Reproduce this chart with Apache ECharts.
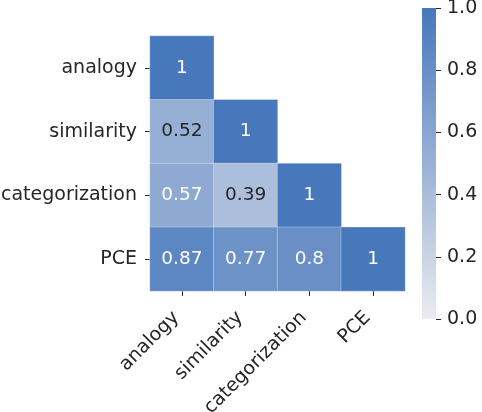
<!DOCTYPE html>
<html><head><meta charset="utf-8">
<script src="https://cdn.jsdelivr.net/npm/echarts@6/dist/echarts.min.js"></script>
<style>html,body{margin:0;padding:0;background:#fff}#c{width:482px;height:412px}</style>
</head><body><div id="c"></div>
<script>
const categories = ['analogy', 'similarity', 'categorization', 'PCE'];
const rowAnalogy = [1];
const rowSimilarity = [0.52, 1];
const rowCategorization = [0.57, 0.39, 1];
const rowPCE = [0.87, 0.77, 0.8, 1];
const colorbarTicks = [0, 0.2, 0.4, 0.6, 0.8, 1.0];

const rows = [rowAnalogy, rowSimilarity, rowCategorization, rowPCE];
const lowColor = '#ebebef', highColor = '#4878bc';
const data = [];
rows.forEach((row, yi) => row.forEach((v, xi) => {
  data.push({value: [xi, yi, v], label: {color: v < 0.55 ? '#262626' : '#ffffff'}});
}));

const font = 'DejaVu Sans';
const chart = echarts.init(document.getElementById('c'), null, {renderer: 'canvas'});
chart.setOption({
  animation: false,
  textStyle: {fontFamily: font},
  grid: [
    {left: 150, top: 36, width: 255, height: 255, containLabel: false, outerBoundsMode: 'none'},
    {left: 422, top: 8, width: 14, height: 311, containLabel: false, outerBoundsMode: 'none'}
  ],
  xAxis: [
    {type: 'category', data: categories, gridIndex: 0,
     axisLine: {show: false}, splitLine: {show: false},
     axisTick: {show: true, alignWithLabel: true, length: 5, lineStyle: {color: '#262626', width: 1}},
     axisLabel: {rotate: 45, margin: 18, padding: [0, 8, 0, 0], fontSize: 19, color: '#262626', fontFamily: font, interval: 0}},
    {type: 'category', data: ['cb'], gridIndex: 1, show: false}
  ],
  yAxis: [
    {type: 'category', data: categories, gridIndex: 0, inverse: true,
     axisLine: {show: false}, splitLine: {show: false},
     axisTick: {show: true, alignWithLabel: true, length: 5, lineStyle: {color: '#262626', width: 1}},
     axisLabel: {margin: 13, fontSize: 19, color: '#262626', fontFamily: font, interval: 0}},
    {type: 'value', gridIndex: 1, min: 0, max: 1, interval: 0.2, position: 'right',
     axisLine: {show: false}, splitLine: {show: false},
     axisTick: {show: true, length: 5, lineStyle: {color: '#262626', width: 1}},
     axisLabel: {margin: 11, fontSize: 19, color: '#262626', fontFamily: font,
       formatter: v => v.toFixed(1)}}
  ],
  visualMap: {show: false, min: 0, max: 1, seriesIndex: 0, dimension: 2,
    inRange: {color: [lowColor, highColor]}},
  series: [
    {type: 'heatmap', xAxisIndex: 0, yAxisIndex: 0, data: data,
     itemStyle: {borderColor: 'rgba(255,255,255,0.6)', borderWidth: 0.5},
     label: {show: true, fontSize: 18.5, fontFamily: font, formatter: p => String(p.value[2])},
     emphasis: {disabled: true}},
    {type: 'bar', xAxisIndex: 1, yAxisIndex: 1, data: [colorbarTicks[colorbarTicks.length - 1]],
     barWidth: '100%',
     itemStyle: {color: {type: 'linear', x: 0, y: 0, x2: 0, y2: 1,
       colorStops: [{offset: 0, color: highColor}, {offset: 1, color: lowColor}]}},
     silent: true}
  ]
});
</script></body></html>
